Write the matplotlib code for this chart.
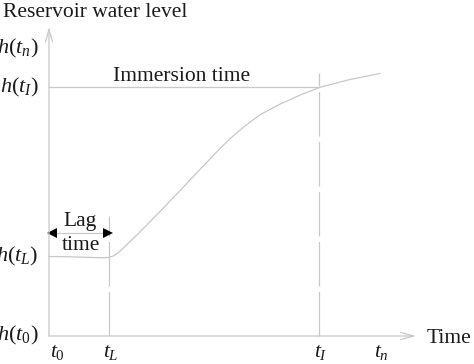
import matplotlib
matplotlib.use("Agg")
import matplotlib.pyplot as plt

plt.rcParams['font.family'] = ['Liberation Serif', 'DejaVu Serif']
plt.rcParams['mathtext.fontset'] = 'custom'
plt.rcParams['mathtext.rm'] = 'Liberation Serif'
plt.rcParams['mathtext.it'] = 'Liberation Serif:italic'
plt.rcParams['mathtext.bf'] = 'Liberation Serif:bold'
plt.rcParams['lines.scale_dashes'] = False

# ---- data (schematic units) ----
curve_t = [0, 7, 13.7, 17, 19, 20.3, 21.7, 23.7, 26, 28.1, 32.6, 37, 43.7,
           50.3, 57, 60.3, 63.7, 67, 70.3, 77, 83.7, 90.3, 100.3, 110.3]
curve_h = [26.5, 26.4, 26.2, 26.1, 26.1, 26.3, 26.8, 28.3, 30.5, 32.5, 37.0,
           41.5, 48.5, 55.5, 62.5, 65.7, 68.7, 71.3, 73.7, 77.3, 80.3, 82.9,
           85.5, 87.5]

t_ticks = [0, 20, 90, 110]
t_labels = [r'$t_0$', r'$t_L$', r'$t_I$', r'$t_n$']
h_ticks = [0.3, 26.5, 83, 96]
h_labels = [r'$h(t_0)$', r'$h(t_L)$', r'$h(t_I)$', r'$h(t_n)$']

t_L = 20
t_I = 90
h_I = 83
t_axis_end = 122.3
h_axis_end = 103

grey = '#c8c8c8'
txt = '#1a1a1a'
fs = 15.5

fig = plt.figure(figsize=(4.74, 3.64), dpi=100)
ax = fig.add_axes([0, 0, 1, 1])
ax.set_xlim(-49 / 3, 425 / 3)
ax.set_ylim(-28 / 3, 112)
ax.axis('off')

# axes with open arrows
arrow = dict(arrowstyle='->,head_length=0.9,head_width=0.25',
             color=grey, lw=0.9, shrinkA=0, shrinkB=0)
ax.annotate('', xy=(t_axis_end, 0), xytext=(0, 0), arrowprops=arrow)
ax.annotate('', xy=(0, h_axis_end), xytext=(0, 0), arrowprops=arrow)

# curve
ax.plot(curve_t, curve_h, color=grey, lw=0.9, solid_joinstyle='round')

# immersion level line
ax.plot([0, t_I], [h_I, h_I], color=grey, lw=0.9)

# dashed verticals
ax.plot([t_L, t_L], [0, 40], color=grey, lw=0.9, dashes=(32, 4))
ax.plot([t_I, t_I], [0, 87.7], color=grey, lw=0.9, dashes=(32, 4))

# lag time double arrow
ax.plot([0, t_L], [34.3, 34.3], color=grey, lw=0.9)
ax.plot([1.1], [34.3], marker='<', color='black', ms=6.5, mew=0)
ax.plot([t_L - 0.4], [34.3], marker='>', color='black', ms=6.5, mew=0)

# tick labels
for t, lab in zip(t_ticks, t_labels):
    dx = 6 if t == 0 else 1.5
    ax.annotate(lab, xy=(t, 0), xytext=(dx, -12), textcoords='offset points',
                ha='center', va='center', fontsize=fs, color=txt)
for h, lab in zip(h_ticks, h_labels):
    ax.annotate(lab, xy=(0, h), xytext=(-7.5, 0), textcoords='offset points',
                ha='right', va='center', fontsize=fs + 0.5, color=txt)

# texts
ax.text(-15.33, 106.2, 'Reservoir water level', ha='left', va='baseline',
        fontsize=fs, color=txt)
ax.text(21.3, 85, 'Immersion time', ha='left', va='baseline',
        fontsize=fs, color=txt)
ax.text(126, -2.3, 'Time', ha='left', va='baseline', fontsize=fs, color=txt)
ax.text(10.3, 36.7, 'Lag', ha='center', va='baseline', fontsize=fs, color=txt)
ax.text(10.8, 28.7, 'time', ha='center', va='baseline', fontsize=fs, color=txt)

fig.savefig('out.png', dpi=100)
